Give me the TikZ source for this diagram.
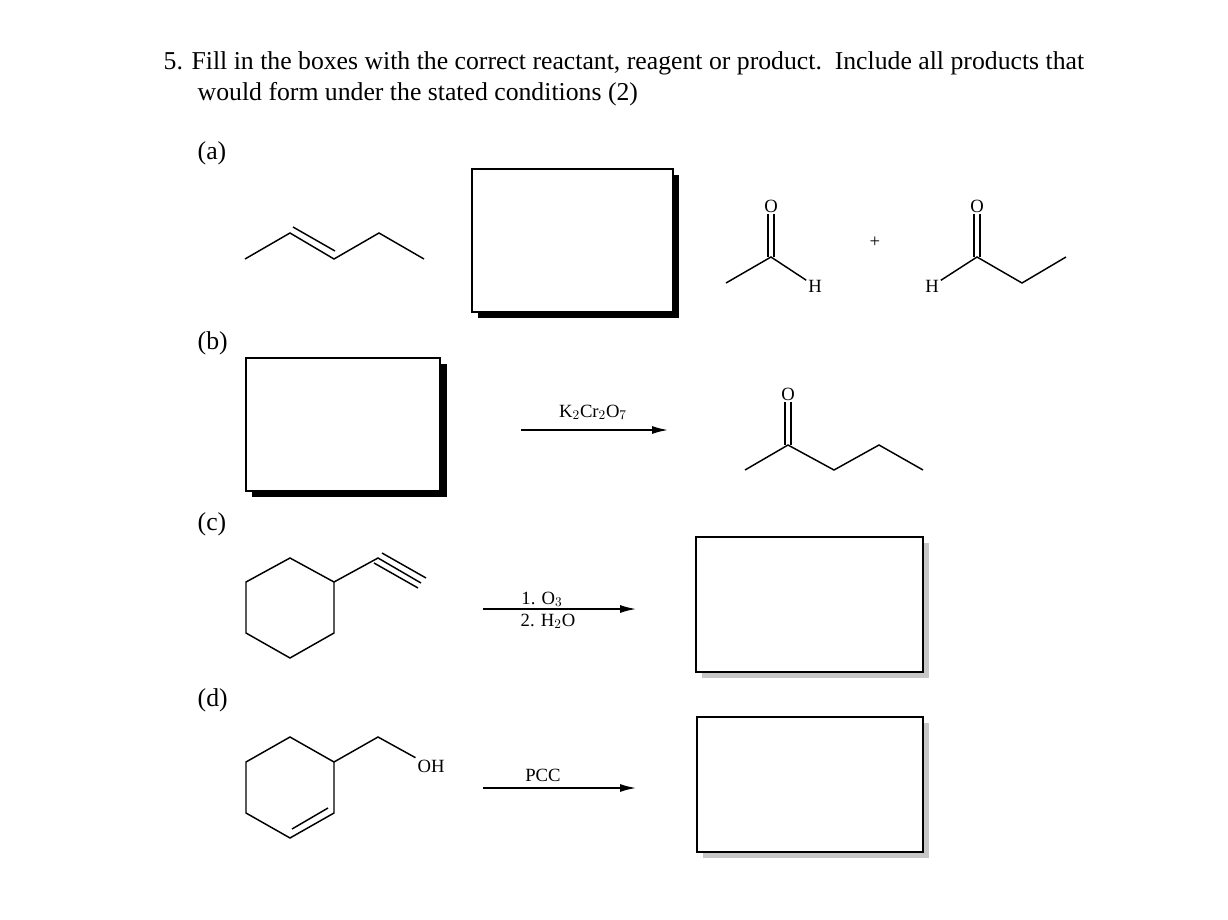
\documentclass[tikz,border=0pt]{standalone}
\usepackage{fontspec}
\setmainfont{Liberation Serif}
\usetikzlibrary{arrows.meta}
\begin{document}
\begin{tikzpicture}[x=0.75pt,y=-0.75pt,line width=1.1pt,
  big/.style={font=\fontsize{19.3}{23}\selectfont,inner sep=0pt},
  sm/.style={font=\fontsize{14}{16}\selectfont,inner sep=1pt},
  rxn/.style={-{Latex[length=12pt,width=6pt]},line width=1.1pt},
  ansbox/.style={draw,line width=1.1pt,fill=white}]
\useasboundingbox (0,0) rectangle (1228,920);
\fill[white] (0,0) rectangle (1228,920);
% title
\node[big,anchor=base west] (t1) at (163,70) {5. Fill in the boxes with the correct reactant, reagent or product.\ \ Include all products that};
\node[big,anchor=base west] (t2) at (197,101) {would form under the stated conditions (2)};
\node[big,anchor=base west] (la) at (197,160) {(a)};
\node[big,anchor=base west] (lb) at (197,349) {(b)};
\node[big,anchor=base west] (lc) at (197,530) {(c)};
\node[big,anchor=base west] (ld) at (197,706) {(d)};
% (a) alkene
\draw (245,259) -- (290,233) -- (334,259) -- (379,233) -- (424,259);
\draw (293,227) -- (335,251);
% box a
\fill (478,175) rectangle (679,318);
\draw[ansbox] (472,169) rectangle (673,312);
% acetaldehyde
\node[sm] (o1) at (771,206) {O};
\node[sm] (h1) at (815,286) {H};
\draw (726,283) -- (771,257) -- (h1);
\draw (768,257) -- ([xshift=-2.25pt]o1.south);
\draw (774,257) -- ([xshift=2.25pt]o1.south);
\node[sm] (plus) at (875,242) {+};
% propanal
\node[sm] (o2) at (977,206) {O};
\node[sm] (h2) at (932,286) {H};
\draw (h2) -- (977,257) -- (1022,283) -- (1066,257);
\draw (974,257) -- ([xshift=-2.25pt]o2.south);
\draw (980,257) -- ([xshift=2.25pt]o2.south);
% box b
\fill (252,364) rectangle (447,497);
\draw[ansbox] (246,358) rectangle (440,491);
% arrow b
\coordinate (b1) at (521,430); \coordinate (b2) at (668,430);
\draw[rxn] (b1) -- (b2);
\node[sm,anchor=base] (kc) at (593,417) {K$_2$Cr$_2$O$_7$};
% ketone
\node[sm] (o3) at (788,394) {O};
\draw (745,470) -- (788,445) -- (834,470) -- (879,445) -- (923,470);
\draw (785,445) -- ([xshift=-2.25pt]o3.south);
\draw (791,445) -- ([xshift=2.25pt]o3.south);
% (c) ring
\draw (290,558) -- (334,582) -- (334,633) -- (290,658) -- (246,633) -- (246,582) -- cycle;
\draw (334,582) -- (378,558) -- (421,583);
\draw (382,553) -- (426,578);
\draw (374,563) -- (418,588);
% arrow c
\draw[rxn] (483,609) -- (636,609);
\node[sm,anchor=base] (r1) at (542,604) {1. O$_3$};
\node[sm,anchor=base] (r2) at (548,626) {2. H$_2$O};
% box c
\fill[black!22] (702,543) rectangle (929,678);
\draw[ansbox] (696,537) rectangle (923,672);
% (d)
\draw (290,737) -- (334,762) -- (334,813) -- (290,838) -- (246,813) -- (246,762) -- cycle;
\draw (328,808) -- (292,829);
\node[sm] (oh) at (431,766) {OH};
\draw (334,762) -- (378,737) -- (oh.north west);
\draw[rxn] (483,788) -- (636,788);
\node[sm,anchor=base] (pcc) at (543,781) {PCC};
\fill[black!22] (703,723) rectangle (929,858);
\draw[ansbox] (697,717) rectangle (923,852);
\end{tikzpicture}
\end{document}
